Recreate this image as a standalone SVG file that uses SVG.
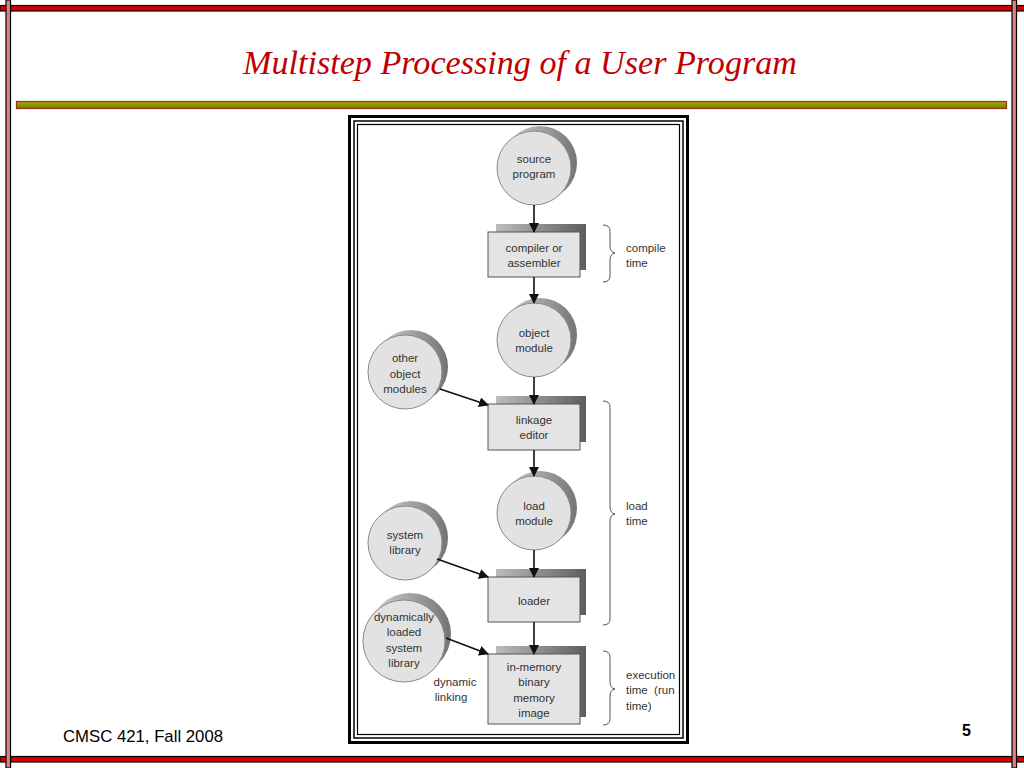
<svg xmlns="http://www.w3.org/2000/svg" width="1024" height="768" viewBox="0 0 1024 768">
<defs>
<style>
.t{font-family:"Liberation Sans",Arial,sans-serif;font-size:11.5px;fill:#333;text-anchor:middle}
.lbl{font-family:"Liberation Sans",Arial,sans-serif;font-size:11.5px;fill:#333}
.circ{fill:#e2e2e2;stroke:#8a8a8a;stroke-width:1}
.box{fill:#e4e4e4;stroke:#555;stroke-width:1}
.edge{stroke:#111;stroke-width:1.6;fill:none;marker-end:url(#ah)}
.brace{stroke:#555;stroke-width:1;fill:none}
</style>
<marker id="ah" markerWidth="10" markerHeight="10" refX="9" refY="5" orient="auto" markerUnits="userSpaceOnUse">
<path d="M0,0 L10,5 L0,10 z" fill="#111"/>
</marker>
<linearGradient id="shc" x1="0" y1="0" x2="1" y2="0">
<stop offset="0" stop-color="#d4d4d4"/>
<stop offset="1" stop-color="#747474"/>
</linearGradient>
<linearGradient id="shb" x1="0" y1="0" x2="1" y2="0">
<stop offset="0" stop-color="#bcbcbc"/>
<stop offset="1" stop-color="#5e5e5e"/>
</linearGradient>
<linearGradient id="olive" x1="0" y1="0" x2="0" y2="1">
<stop offset="0" stop-color="#a8a800"/>
<stop offset="1" stop-color="#7a7a00"/>
</linearGradient>
</defs>
<rect width="1024" height="768" fill="#fff"/>
<g id="page-border">
<rect x="0" y="5.5" width="1024" height="5.5" fill="#d40000" stroke="#000" stroke-width="1.2"/>
<rect x="0" y="756.5" width="1024" height="5.5" fill="#d40000" stroke="#000" stroke-width="1.2"/>
<rect x="6" y="0" width="4.5" height="768" fill="#e08080" stroke="#000" stroke-width="1.2"/>
<rect x="1012" y="0" width="4.5" height="768" fill="#e08080" stroke="#000" stroke-width="1.2"/>
</g>
<text x="243" y="74" textLength="554" lengthAdjust="spacingAndGlyphs" font-family="'Liberation Serif','Times New Roman',serif" font-style="italic" font-size="34" fill="#c00000">Multistep Processing of a User Program</text>
<rect x="16.5" y="101.5" width="990" height="7" fill="url(#olive)" stroke="#8b3a1a" stroke-width="1.2"/>
<g id="frame" fill="none" stroke="#000">
<rect x="349.5" y="116.5" width="338" height="626" stroke-width="3"/>
<rect x="354" y="121" width="329" height="617" stroke-width="1.5"/>
<rect x="357.5" y="124.5" width="322" height="610" stroke-width="1.2"/>
</g>
<g id="source-program">
<circle cx="540" cy="163" r="37" fill="url(#shc)"/>
<circle class="circ" cx="534" cy="168" r="37"/>
<text class="t" x="534" y="163">source</text>
<text class="t" x="534" y="178">program</text>
</g>
<g id="compiler">
<rect x="496" y="224" width="90" height="46" fill="url(#shb)"/>
<rect class="box" x="488" y="232" width="92" height="45"/>
<text class="t" x="534" y="252">compiler or</text>
<text class="t" x="534" y="267">assembler</text>
</g>
<g id="object-module">
<circle cx="540" cy="335" r="37" fill="url(#shc)"/>
<circle class="circ" cx="534" cy="340" r="37"/>
<text class="t" x="534" y="337">object</text>
<text class="t" x="534" y="352">module</text>
</g>
<g id="other-object-modules">
<circle cx="411" cy="367" r="37" fill="url(#shc)"/>
<circle class="circ" cx="405" cy="372" r="37"/>
<text class="t" x="405" y="362">other</text>
<text class="t" x="405" y="378">object</text>
<text class="t" x="405" y="393">modules</text>
</g>
<g id="linkage-editor">
<rect x="496" y="396" width="90" height="46" fill="url(#shb)"/>
<rect class="box" x="488" y="404" width="92" height="46"/>
<text class="t" x="534" y="424">linkage</text>
<text class="t" x="534" y="439">editor</text>
</g>
<g id="load-module">
<circle cx="540" cy="508" r="37" fill="url(#shc)"/>
<circle class="circ" cx="534" cy="513" r="37"/>
<text class="t" x="534" y="510">load</text>
<text class="t" x="534" y="525">module</text>
</g>
<g id="system-library">
<circle cx="411" cy="538" r="37" fill="url(#shc)"/>
<circle class="circ" cx="405" cy="543" r="37"/>
<text class="t" x="405" y="539">system</text>
<text class="t" x="405" y="554">library</text>
</g>
<g id="loader">
<rect x="496" y="569" width="90" height="46" fill="url(#shb)"/>
<rect class="box" x="488" y="577" width="92" height="45"/>
<text class="t" x="534" y="605">loader</text>
</g>
<g id="dynamic-library">
<circle cx="410" cy="634" r="41" fill="url(#shc)"/>
<circle class="circ" cx="404" cy="641" r="41"/>
<text class="t" x="404" y="621">dynamically</text>
<text class="t" x="404" y="636">loaded</text>
<text class="t" x="404" y="652">system</text>
<text class="t" x="404" y="667">library</text>
</g>
<g id="in-memory-image">
<rect x="496" y="646" width="90" height="71" fill="url(#shb)"/>
<rect class="box" x="488" y="654" width="92" height="70"/>
<text class="t" x="534" y="671">in-memory</text>
<text class="t" x="534" y="686">binary</text>
<text class="t" x="534" y="702">memory</text>
<text class="t" x="534" y="717">image</text>
</g>
<g id="edges">
<line class="edge" x1="534" y1="205" x2="534" y2="232"/>
<line class="edge" x1="534" y1="277" x2="534" y2="303"/>
<line class="edge" x1="534" y1="377" x2="534" y2="404"/>
<line class="edge" x1="440" y1="389" x2="488" y2="405"/>
<line class="edge" x1="534" y1="450" x2="534" y2="476"/>
<line class="edge" x1="534" y1="550" x2="534" y2="577"/>
<line class="edge" x1="437" y1="559" x2="488" y2="577"/>
<line class="edge" x1="534" y1="622" x2="534" y2="654"/>
<line class="edge" x1="446" y1="638" x2="488" y2="654"/>
</g>
<text class="t" x="455" y="686">dynamic</text>
<text class="t" x="451" y="701">linking</text>
<g id="braces">
<path class="brace" d="M603,225 Q610,225 610,231 L610,246 Q610,252 615,253 Q610,254 610,260 L610,276 Q610,282 603,282"/>
<path class="brace" d="M603,401 Q610,401 610,407 L610,507 Q610,513 615,514 Q610,515 610,521 L610,619 Q610,625 603,625"/>
<path class="brace" d="M603,651 Q610,651 610,657 L610,682 Q610,688 615,689 Q610,690 610,696 L610,719 Q610,725 603,725"/>
</g>
<text class="lbl" x="626" y="252">compile</text>
<text class="lbl" x="626" y="267">time</text>
<text class="lbl" x="626" y="510">load</text>
<text class="lbl" x="626" y="525">time</text>
<text class="lbl" x="626" y="679">execution</text>
<text class="lbl" x="626" y="694" xml:space="preserve">time  (run</text>
<text class="lbl" x="626" y="710">time)</text>
<text x="63" y="742" textLength="160" lengthAdjust="spacingAndGlyphs" font-family="'Liberation Sans',Arial,sans-serif" font-size="17" fill="#000">CMSC 421, Fall 2008</text>
<text x="962" y="736" font-family="'Liberation Sans',Arial,sans-serif" font-size="16" font-weight="bold" fill="#000">5</text>
</svg>
